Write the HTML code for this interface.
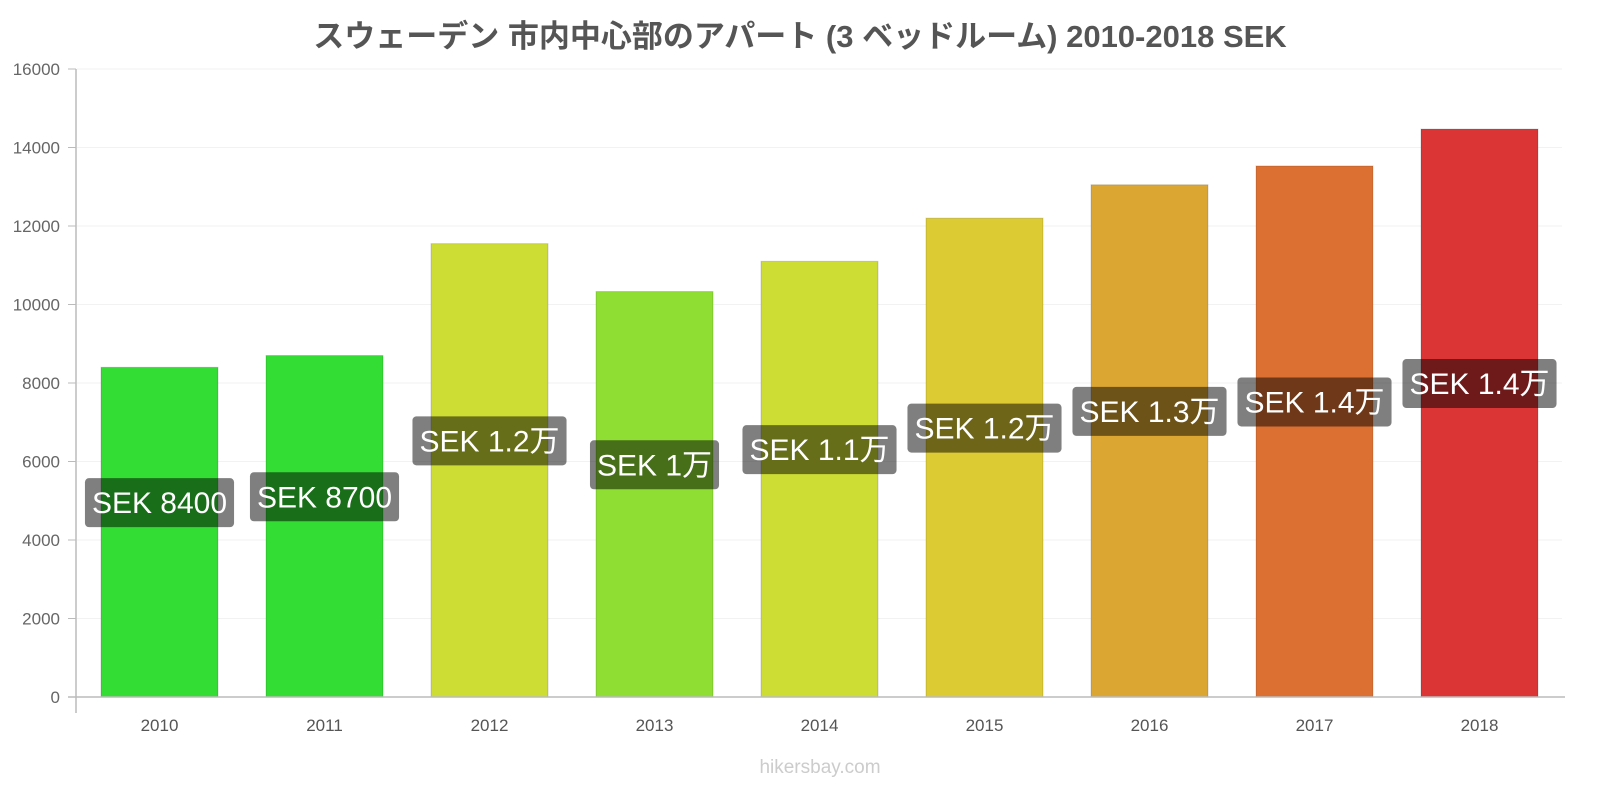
<!DOCTYPE html>
<html><head><meta charset="utf-8"><style>
html,body{margin:0;padding:0;background:#fff;overflow:hidden;width:1600px;height:800px;}
svg{display:block;}
svg text{font-family:"Liberation Sans","Noto Sans CJK JP",sans-serif;}
</style></head><body>
<svg id="chart" width="1600" height="800" xmlns="http://www.w3.org/2000/svg">
<text x="800" y="47" text-anchor="middle" font-size="31" font-weight="bold" fill="#555">スウェーデン 市内中心部のアパート (3 ベッドルーム) 2010-2018 SEK</text>
<g id="grid"></g><g id="bars"></g><g id="labels"></g>
<line x1="76" y1="69" x2="76" y2="713" stroke="#bbb" stroke-width="1.5"/>
<line x1="68" y1="697" x2="1565" y2="697" stroke="#bbb" stroke-width="1.5"/>
<text x="820" y="773" text-anchor="middle" font-size="19" fill="#ccc">hikersbay.com</text>
</svg>
<script>
const categories=["2010","2011","2012","2013","2014","2015","2016","2017","2018"];
const values=[8400,8700,11550,10330,11100,12200,13050,13530,14470];
const valueLabels=["SEK 8400","SEK 8700","SEK 1.2万","SEK 1万","SEK 1.1万","SEK 1.2万","SEK 1.3万","SEK 1.4万","SEK 1.4万"];
const colors=["#33dd33","#33dd33","#cedd33","#8ede33","#cedd33","#dccb33","#dca633","#dc7033","#dc3535"];
const yTicks=[0,2000,4000,6000,8000,10000,12000,14000,16000];
const NS="http://www.w3.org/2000/svg";
const y=v=>697-v*(628/16000);
const x0=77,step=165,bw=117;
const xc=i=>x0+step*i+step/2;
function mk(t,a,p){const e=document.createElementNS(NS,t);for(const k in a)e.setAttribute(k,a[k]);p.appendChild(e);return e;}
const grid=document.getElementById('grid'),bars=document.getElementById('bars'),labels=document.getElementById('labels');
yTicks.forEach(v=>{
 const l=mk('line',{x1:77,x2:1562,y1:y(v),y2:y(v),stroke:'#f2f2f2'},grid);
 
 
 const tk=mk('line',{x1:68,x2:76,y1:y(v),y2:y(v),stroke:'#bbb'},grid);
 
 
 const t=mk('text',{x:60,y:y(v)+6,'text-anchor':'end','font-size':17,fill:'#666'},grid);
 t.textContent=v;
 
 
});
categories.forEach((c,i)=>{
 const cx=xc(i),top=y(values[i]);
 const r=mk('rect',{x:cx-bw/2,y:top,width:bw,height:697-top,fill:colors[i],stroke:'rgba(0,0,0,0.15)'},bars);
 
 
 const t=mk('text',{x:cx,y:731,'text-anchor':'middle','font-size':17,fill:'#555'},bars);
 t.textContent=c;
 
 
 const ly=(top+697)/2-30;
 const g=mk('g',{},labels);
 
 
 const tx=mk('text',{x:cx,y:ly+11,'text-anchor':'middle','font-size':30,fill:'#fff'},g);
 tx.textContent=valueLabels[i];
 const w=tx.getComputedTextLength()+14;
 const bg=mk('rect',{x:cx-w/2,y:ly-24,width:w,height:49,rx:4,fill:'rgba(0,0,0,0.5)'},g);
 g.insertBefore(bg,tx);
});
</script>
</body></html>
